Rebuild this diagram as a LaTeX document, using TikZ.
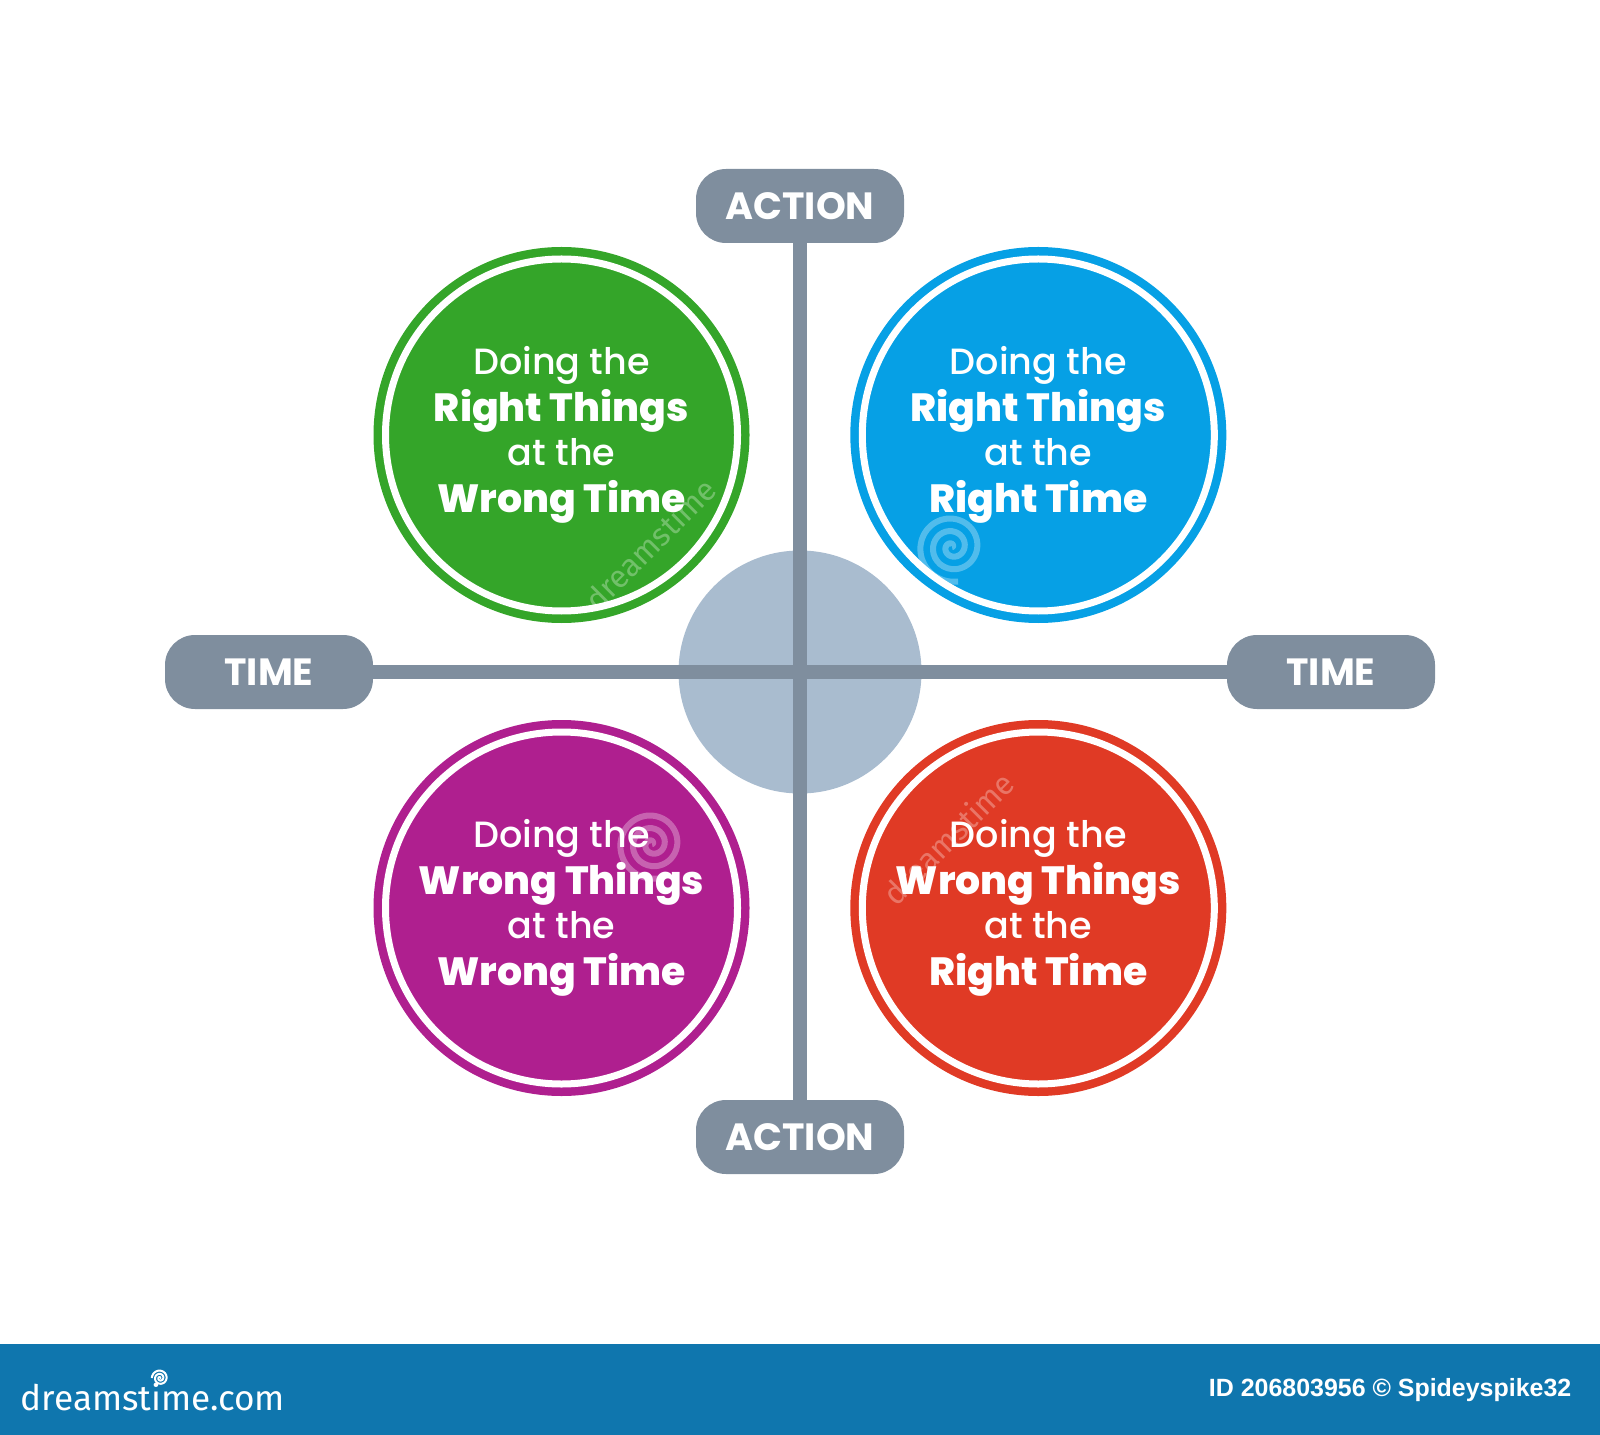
\documentclass[tikz,border=0pt]{standalone}
\usepackage{fontspec}
\setmainfont{Poppins}
\newfontfamily\medfont{Poppins Medium}
\newfontfamily\barfont{Liberation Sans}
\newfontfamily\logofont{Fira Sans}
\newcommand{\strongline}[1]{\raisebox{-.5pt}{\fontsize{11.2}{12.86}\selectfont\bfseries #1}}
\definecolor{axisgray}{HTML}{7F8E9E}
\definecolor{hubblue}{HTML}{A9BCCF}
\definecolor{leafgreen}{HTML}{34A529}
\definecolor{skyblue}{HTML}{06A0E5}
\definecolor{plum}{HTML}{AF1F8F}
\definecolor{brick}{HTML}{E03A25}
\definecolor{barblue}{HTML}{0F76AE}
\tikzset{
	quad/.style={circle, fill=#1, draw=white, line width=.07cm, minimum size=3.52cm,
		preaction={draw=#1, line width=.24cm}, text=white, align=center, inner sep=0pt,
		font=\medfont\fontsize{10.4}{12.86}\selectfont},
	pill/.style={rectangle, rounded corners=.3cm, fill=axisgray, text=white, minimum width=2.08cm,
		minimum height=.74cm, inner sep=0pt, outer sep=0pt, font=\fontsize{10.8}{12}\selectfont\bfseries},
	axis/.style={draw=axisgray, line width=.143cm, shorten >=-.5pt, shorten <=-.5pt},
	mark text/.style={text=white, opacity=.3, font=\logofont\fontsize{9}{11}\selectfont},
}
\begin{document}
\begin{tikzpicture}
\useasboundingbox (0,0) rectangle (16,14.34);
\node[circle, fill=hubblue, minimum size=2.43cm, inner sep=0pt] (hub) at (8,7.62) {};
\node[pill] (actiontop) at (8,12.28) {ACTION};
\node[pill] (actionbot) at (8,2.97) {ACTION};
\node[pill] (timeleft) at (2.69,7.62) {TIME};
\node[pill] (timeright) at (13.31,7.62) {TIME};
\draw[axis] (actiontop) -- (actionbot);
\draw[axis] (timeleft) -- (timeright);
\node[quad=leafgreen] (rightwrong) at (5.615,9.99) {Doing the\\\strongline{Right Things}\\at the\\\strongline{Wrong Time}};
\node[quad=skyblue] (rightright) at (10.383,9.99) {Doing the\\\strongline{Right Things}\\at the\\\strongline{Right Time}};
\node[quad=plum] (wrongwrong) at (5.615,5.26) {Doing the\\\strongline{Wrong Things}\\at the\\\strongline{Wrong Time}};
\node[quad=brick] (wrongright) at (10.383,5.26) {Doing the\\\strongline{Wrong Things}\\at the\\\strongline{Right Time}};
% faint marks
\node[mark text, rotate=45] (markgreen) at (6.5,8.9) {dreamstime};
\node[mark text, rotate=45] (markred) at (9.48,5.96) {dreamstime};
\foreach \spot in {(9.52,8.87),(6.52,5.9)}
	\draw[white, opacity=.3, line width=.06cm, shift={\spot}] plot[domain=0:1000, samples=90, smooth] ({\x}:{.00035*\x});
% bottom bar
\node[rectangle, fill=barblue, minimum width=16.1cm, minimum height=.94cm, inner sep=0pt, anchor=south] (bar) at (8,-.05) {};
\node[text=white, anchor=west, inner sep=0pt, font=\logofont\fontsize{10}{11}\selectfont] (barlogo) at (.2,.37) {dreamstime.com};
\draw[white, line width=.02cm, shift={(1.6,.56)}] plot[domain=0:900, samples=60, smooth] ({\x}:{.00009*\x});
\node[text=white, anchor=east, inner sep=0pt, font=\barfont\bfseries\fontsize{7.1}{8}\selectfont] (barid) at (15.72,.44) {ID 206803956 © Spideyspike32};
\end{tikzpicture}
\end{document}
